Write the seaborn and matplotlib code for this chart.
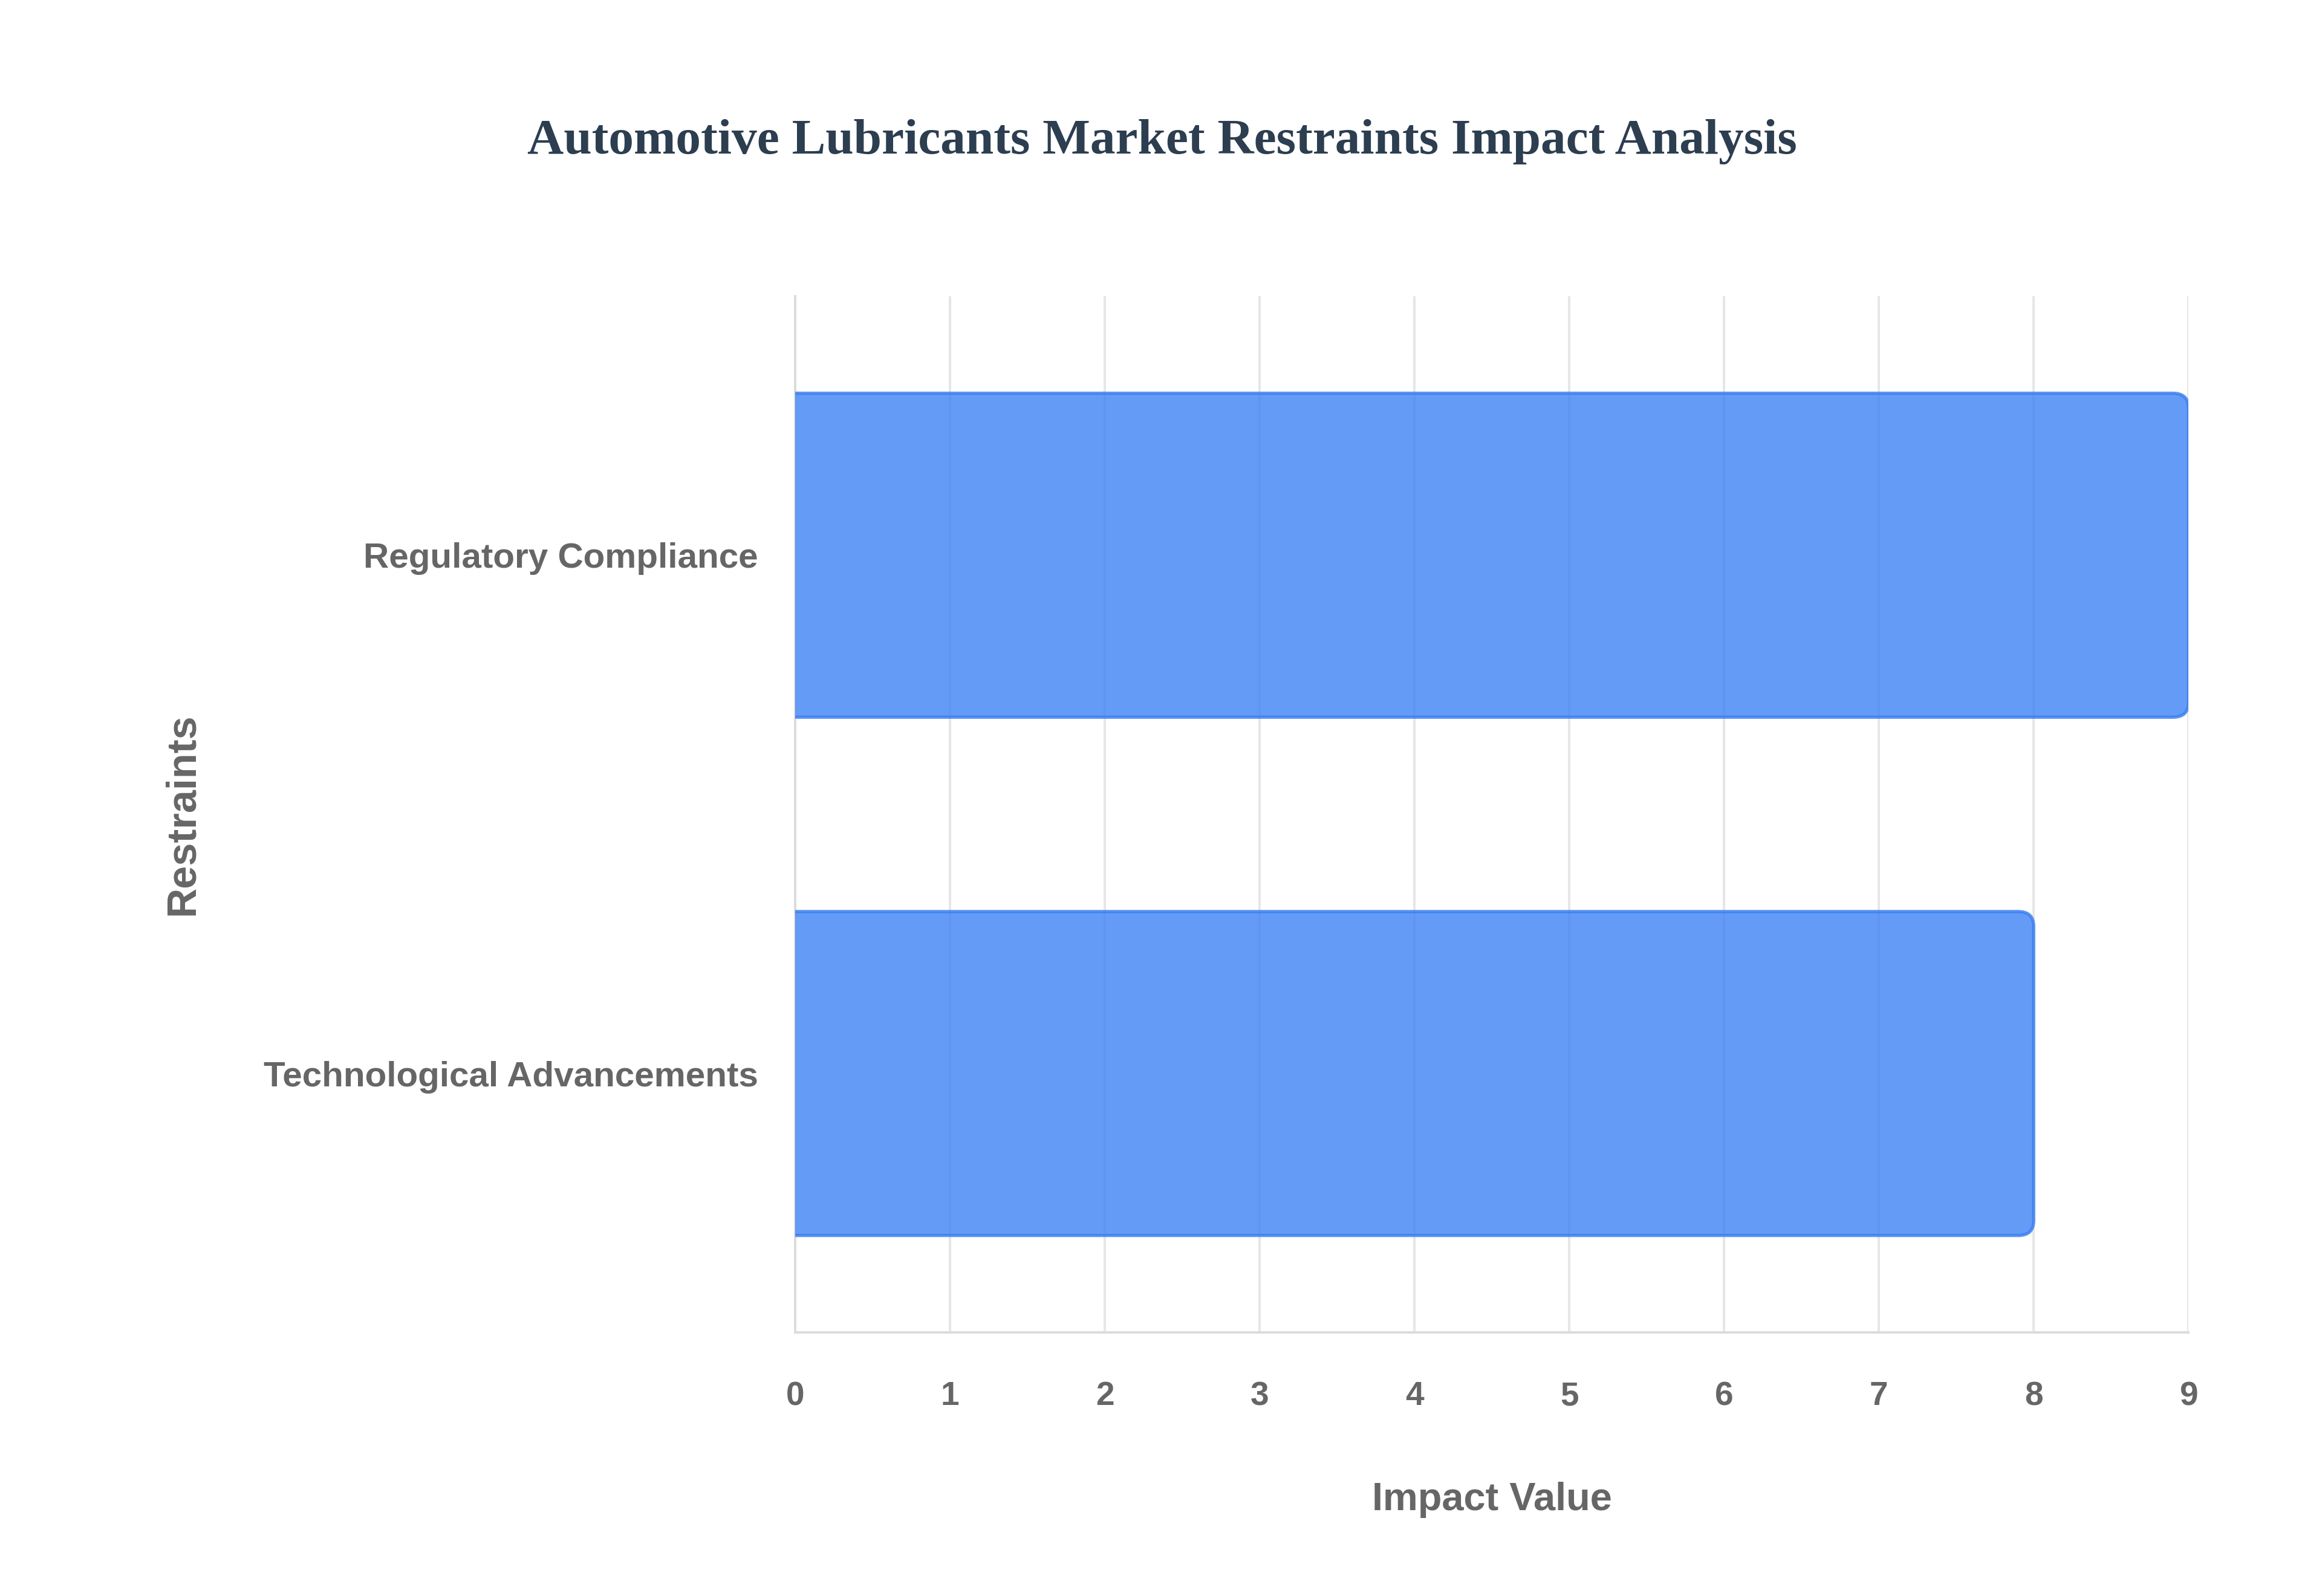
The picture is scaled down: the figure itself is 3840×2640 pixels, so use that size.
import numpy as np
import pandas as pd
import matplotlib
matplotlib.use("Agg")
import matplotlib.pyplot as plt
from matplotlib.patches import FancyBboxPatch
import seaborn as sns

# Datos del grafico
restraints = ["Regulatory Compliance", "Technological Advancements"]
impact_values = [9, 8]
x_ticks = [0, 1, 2, 3, 4, 5, 6, 7, 8, 9]

df = pd.DataFrame({"Restraints": restraints, "Impact Value": impact_values})

sns.set_theme(style="white")
plt.rcParams['font.family'] = ['Liberation Sans', 'DejaVu Sans']

fig = plt.figure(figsize=(16, 11), dpi=240)
ax = fig.add_axes([0.3425, 0.165, 0.600, 0.6495])

sns.barplot(data=df, y="Restraints", x="Impact Value", orient="h",
            color="#4285F4", width=0.625, ax=ax, zorder=3)

# Esquinas redondeadas como en la figura original
for p in list(ax.patches):
    x0, y0 = p.get_x(), p.get_y()
    w, h = p.get_width(), p.get_height()
    p.remove()
    rb = FancyBboxPatch((x0 - 0.3, y0), w + 0.3, h,
                        boxstyle="round,pad=0,rounding_size=0.1",
                        mutation_aspect=0.286,
                        facecolor="#4285F4", alpha=0.82,
                        edgecolor="#3b7ef0", linewidth=1.6, zorder=3)
    ax.add_patch(rb)

ax.set_xlim(0, 9)
ax.set_ylim(1.5, -0.5)
ax.set_xticks(x_ticks)
ax.xaxis.grid(True, color="#e6e6e6", linewidth=1.2, zorder=0)
ax.yaxis.grid(False)

for s in ["top", "right"]:
    ax.spines[s].set_visible(False)
ax.spines["left"].set_color("#dcdcdc")
ax.spines["bottom"].set_color("#dcdcdc")
ax.spines["left"].set_linewidth(1.2)
ax.spines["bottom"].set_linewidth(1.2)

ax.tick_params(axis="x", length=5, color="#e0e0e0", pad=19,
               labelsize=16.5, labelcolor="#666666")
ax.tick_params(axis="y", length=0, pad=18.5, labelsize=17.5, labelcolor="#666666")
for lbl in ax.get_xticklabels() + ax.get_yticklabels():
    lbl.set_fontweight("bold")

ax.set_xlabel("Impact Value", fontsize=19.5, fontweight="bold", color="#666666")
ax.xaxis.set_label_coords(0.5, -0.1614)
ax.xaxis.label.set_va("center")
ax.set_ylabel("Restraints", fontsize=20.5, fontweight="bold", color="#666666")
ax.yaxis.set_label_coords(-0.44, 0.5)
ax.yaxis.label.set_va("center")

fig.suptitle("Automotive Lubricants Market Restraints Impact Analysis",
             x=0.5006, y=0.911, va="center", fontsize=25, fontweight="bold",
             color="#2c3e50", family=["Liberation Serif", "DejaVu Serif"])

fig.savefig("out.png", dpi=240, facecolor="white")
